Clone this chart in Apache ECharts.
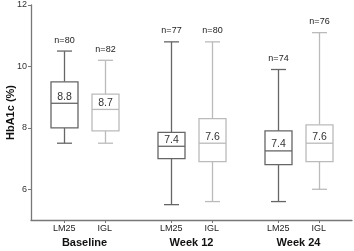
<!DOCTYPE html>
<html>
<head>
<meta charset="utf-8">
<script src="https://cdn.jsdelivr.net/npm/echarts@6/dist/echarts.min.js"></script>
<style>html,body{margin:0;padding:0;background:#fff;}#c{width:354px;height:251px;}</style>
</head>
<body>
<div id="c"></div>
<script>
const groups = ['Baseline', 'Week 12', 'Week 24'];
const arms = ['LM25', 'IGL'];
const yTicks = [6, 8, 10, 12];

const lm25Min = [7.5, 5.5, 5.6];
const lm25Q1 = [8.0, 7.0, 6.8];
const lm25Median = [8.8, 7.4, 7.25];
const lm25Q3 = [9.5, 7.85, 7.9];
const lm25Max = [10.5, 10.8, 9.9];
const lm25N = [80, 77, 74];
const lm25MedianLabel = ['8.8', '7.4', '7.4'];

const iglMin = [7.5, 5.6, 6.0];
const iglQ1 = [7.9, 6.9, 6.9];
const iglMedian = [8.6, 7.5, 7.5];
const iglQ3 = [9.1, 8.3, 8.1];
const iglMax = [10.2, 10.8, 11.1];
const iglN = [82, 80, 76];
const iglMedianLabel = ['8.7', '7.6', '7.6'];

const FONT = 'Arial, "Liberation Sans", sans-serif';
const armOffset = 0.19;
const armPos = [];
const armLabelMap = {};
groups.forEach((g, i) => {
  armPos.push(i - armOffset, i + armOffset);
  armLabelMap[(i - armOffset).toFixed(2)] = arms[0];
  armLabelMap[(i + armOffset).toFixed(2)] = arms[1];
});

function buildData(sign, mn, q1, md, q3, mx) {
  return groups.map((g, i) => [i + sign * armOffset, mn[i], q1[i], md[i], q3[i], mx[i]]);
}

function makeRender(color, nArr, labArr) {
  return function (params, api) {
    const x = api.value(0);
    const pMin = api.coord([x, api.value(1)]);
    const pQ1 = api.coord([x, api.value(2)]);
    const pMed = api.coord([x, api.value(3)]);
    const pQ3 = api.coord([x, api.value(4)]);
    const pMax = api.coord([x, api.value(5)]);
    const cx = Math.round(pMed[0]) + 0.5;
    const bw = 27, cw = 15;
    const ls = { stroke: color, lineWidth: 1.3, fill: null };
    const i = params.dataIndex;
    return {
      type: 'group',
      children: [
        { type: 'line', shape: { x1: cx, y1: pQ3[1], x2: cx, y2: pMax[1] }, style: ls },
        { type: 'line', shape: { x1: cx, y1: pQ1[1], x2: cx, y2: pMin[1] }, style: ls },
        { type: 'line', shape: { x1: cx - cw / 2, y1: pMax[1], x2: cx + cw / 2, y2: pMax[1] }, style: ls },
        { type: 'line', shape: { x1: cx - cw / 2, y1: pMin[1], x2: cx + cw / 2, y2: pMin[1] }, style: ls },
        { type: 'rect', shape: { x: cx - bw / 2, y: pQ3[1], width: bw, height: pQ1[1] - pQ3[1] },
          style: { stroke: color, fill: '#fff', lineWidth: 1.3 } },
        { type: 'line', shape: { x1: cx - bw / 2, y1: pMed[1], x2: cx + bw / 2, y2: pMed[1] }, style: ls },
        { type: 'text', x: cx, y: pMax[1] - 11,
          style: { text: 'n=' + nArr[i], align: 'center', verticalAlign: 'middle',
                   fontSize: 9, fontFamily: FONT, fill: '#222' } },
        { type: 'text', x: cx, y: pMed[1] - 6.5,
          style: { text: labArr[i], align: 'center', verticalAlign: 'middle',
                   fontSize: 10.5, fontFamily: FONT, fill: '#333' } }
      ]
    };
  };
}

const chart = echarts.init(document.getElementById('c'), null, { renderer: 'canvas' });
chart.setOption({
  animation: false,
  backgroundColor: '#fff',
  grid: { left: 31, right: 2, top: 5, bottom: 31, containLabel: false, outerBoundsMode: 'none' },
  xAxis: [
    {
      type: 'value', min: -0.5, max: 2.5,
      splitLine: { show: false },
      axisLine: { show: true, onZero: false, lineStyle: { color: '#777', width: 1.3 } },
      axisTick: { show: true, customValues: armPos, length: 3, lineStyle: { color: '#777' } },
      axisLabel: { customValues: armPos, margin: 4, fontSize: 9, color: '#222', fontFamily: FONT,
                   formatter: v => armLabelMap[Number(v).toFixed(2)] || '' }
    },
    {
      type: 'value', min: -0.5, max: 2.5, position: 'bottom',
      splitLine: { show: false },
      axisLine: { show: false, onZero: false },
      axisTick: { show: false },
      axisLabel: { customValues: groups.map((g, i) => i), margin: 17, fontSize: 11, fontWeight: 'bold',
                   color: '#111', fontFamily: FONT, formatter: v => groups[Math.round(v)] || '' }
    }
  ],
  yAxis: {
    type: 'value', min: 5, max: 12, position: 'left',
    name: 'HbA1c (%)', nameLocation: 'middle', nameRotate: 90, nameGap: 15, nameMoveOverlap: false,
    nameTextStyle: { fontSize: 11, fontWeight: 'bold', color: '#111', fontFamily: FONT },
    splitLine: { show: false },
    axisLine: { show: true, onZero: false, lineStyle: { color: '#777', width: 1.3 } },
    axisTick: { show: true, customValues: yTicks, length: 3, lineStyle: { color: '#777' } },
    axisLabel: { customValues: yTicks, margin: 4, fontSize: 9, color: '#333', fontFamily: FONT }
  },
  series: [
    {
      type: 'custom', name: arms[0], xAxisIndex: 0,
      data: buildData(-1, lm25Min, lm25Q1, lm25Median, lm25Q3, lm25Max),
      encode: { x: 0, y: [1, 2, 3, 4, 5] },
      renderItem: makeRender('#666', lm25N, lm25MedianLabel)
    },
    {
      type: 'custom', name: arms[1], xAxisIndex: 0,
      data: buildData(1, iglMin, iglQ1, iglMedian, iglQ3, iglMax),
      encode: { x: 0, y: [1, 2, 3, 4, 5] },
      renderItem: makeRender('#bbb', iglN, iglMedianLabel)
    }
  ]
});
</script>
</body>
</html>
